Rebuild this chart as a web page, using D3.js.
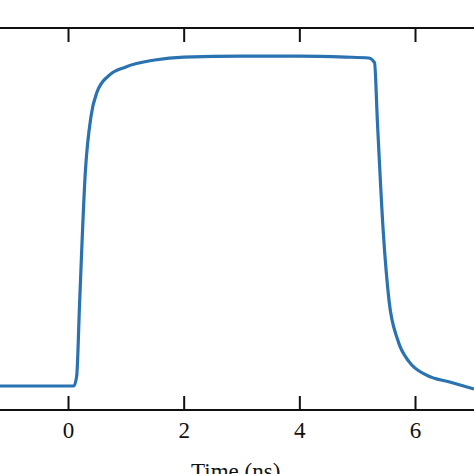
<!DOCTYPE html><html><head><meta charset="utf-8">
<script src="https://cdn.jsdelivr.net/npm/d3@7"></script>
<style>body{margin:0;background:#fff} text{font-family:'Liberation Serif','DejaVu Serif',serif}</style></head><body>
<script>
const times=[-1.18,0.1,0.15,0.2,0.3,0.4,0.5,0.7,1.0,1.5,2,3,4,4.8,5.2,5.3,5.35,5.45,5.55,5.7,5.9,6.2,6.6,7.02];
const values=[0,0,0.03,0.25,0.65,0.82,0.89,0.94,0.967,0.988,0.997,1.0,1.0,0.997,0.994,0.98,0.8,0.47,0.26,0.14,0.073,0.033,0.012,-0.009];
const xTicks=[0,2,4,6];
const W=474,H=474;
const svg=d3.select("body").append("svg").attr("width",W).attr("height",H);
const x=d3.scaleLinear().domain([-1.176,7.02]).range([0,474]);
const y=d3.scaleLinear().domain([-0.0727,1.085]).range([410,28]);
svg.append("line").attr("x1",0).attr("x2",W).attr("y1",y(-0.0727)).attr("y2",y(-0.0727)).attr("stroke","#111").attr("stroke-width",2);
svg.append("line").attr("x1",0).attr("x2",W).attr("y1",y(1.085)).attr("y2",y(1.085)).attr("stroke","#111").attr("stroke-width",2);
const bx=d3.axisBottom(x).tickValues(xTicks).tickSize(-14).tickFormat(d3.format("d"));
const g=svg.append("g").attr("transform",`translate(0,${y(-0.0727)})`).call(bx);
g.select(".domain").remove();
g.selectAll(".tick line").attr("stroke","#111").attr("stroke-width",2);
g.selectAll(".tick text").attr("font-family",null).attr("font-size",23).attr("fill","#111").attr("dy","1.1em");
const gt=svg.append("g").attr("transform",`translate(0,${y(1.085)})`).call(d3.axisTop(x).tickValues(xTicks).tickSize(-14).tickFormat(""));
gt.select(".domain").remove();
gt.selectAll(".tick line").attr("stroke","#111").attr("stroke-width",2);
svg.append("text").attr("x",x(2.9)).attr("y",479).attr("text-anchor","middle").attr("font-size",23).attr("fill","#111").text("Time (ns)");
const line=d3.line().x((d,i)=>x(times[i])).y(d=>y(d)).curve(d3.curveMonotoneX);
svg.append("path").attr("d",line(values)).attr("fill","none").attr("stroke","#2a72b0").attr("stroke-width",3.2);
</script></body></html>
